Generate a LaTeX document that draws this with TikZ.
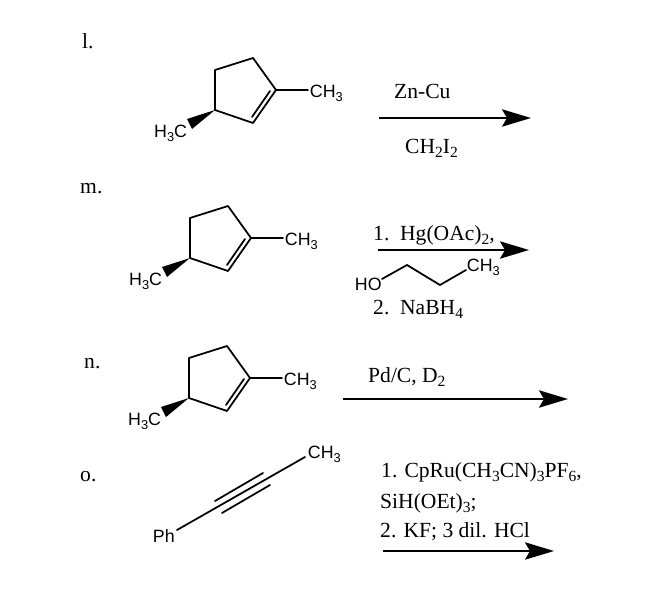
\documentclass[tikz,border=0pt]{standalone}
\usepackage{fontspec}
\setmainfont{Liberation Serif}
\setsansfont{Liberation Sans}
\usetikzlibrary{calc,arrows.meta}
\tikzset{
  bond/.style={line width=1.5pt, line cap=round},
  rxnarrow/.style={line width=1.6pt, -{Stealth[length=0.87cm,width=0.52cm,inset=0.15cm]}},
  reagent/.style={anchor=base west, inner sep=0pt, font=\fontsize{18.4}{18.4}\selectfont},
  atom/.style={inner sep=1.5pt, font=\sffamily\fontsize{15.2}{15.2}\selectfont}
}
\newcommand{\sub}[1]{\raisebox{-0.5ex}{\scalebox{0.72}{#1}}}

\begin{document}
\begin{tikzpicture}[x=0.03cm,y=-0.03cm]
\useasboundingbox (0,0) rectangle (660,616);

% Item letters
\node[reagent] (letl) at (82,48) {l.};
\node[reagent] (letm) at (80,193) {m.};
\node[reagent] (letn) at (84,368) {n.};
\node[reagent] (leto) at (80,481) {o.};

% The three cyclopentenes
\foreach \nm/\dx/\dy in {l/0/0, m/-25/148, n/-26/288} {
\begin{scope}[shift={(\dx,\dy)}]
\coordinate (a\nm) at (253,58);
\coordinate (b\nm) at (215,70);
\coordinate (c\nm) at (215,110);
\coordinate (d\nm) at (253,123);
\coordinate (e\nm) at (276,90);
\coordinate (f\nm) at (270,91);
\coordinate (g\nm) at (252,117);
\node[atom, anchor=base west] (me\nm) at (308,97) {CH\sub{3}};
\node[atom, anchor=base east] (hc\nm) at (189,137) {H\sub{3}C};
\draw[bond, line join=round] (a\nm) -- (b\nm) -- (c\nm) -- (d\nm) -- (e\nm) -- cycle;
\draw[bond] (e\nm) -- (e\nm -| me\nm.west);
\draw[bond] (f\nm) -- (g\nm);
\fill (c\nm) -- (187,119) -- (192,129) -- cycle;
\end{scope}
}

% Reaction l
\node[reagent] (znc) at (394,98) {Zn-Cu};
\node[reagent] (chi) at (405,153) {CH\sub{2}I\sub{2}};
\coordinate (ls) at (379,118);
\coordinate (le) at (531,118);
\draw[rxnarrow] (ls) -- (le);

% Reaction m
\node[reagent] (hg) at (373,240) {1.\ \ Hg(OAc)\sub{2},};
\node[reagent] (nab) at (373,314) {2.\ \ NaBH\sub{4}};
\coordinate (ms) at (378,250);
\coordinate (me) at (529,250);
\draw[rxnarrow] (ms) -- (me);
\node[atom, anchor=base west] (ho) at (353,290) {HO};
\node[atom, anchor=base west] (ol) at (465,271) {CH\sub{3}};
\coordinate (h0) at (382,279);
\coordinate (p1) at (407,265);
\coordinate (p2) at (440,285);
\coordinate (p3) at (466,270);
\draw[bond, line join=round] (h0) -- (p1) -- (p2) -- (p3);

% Reaction n
\node[reagent] (pd) at (368,382) {Pd/C, D\sub{2}};
\coordinate (ns) at (343,399);
\coordinate (ne) at (568,399);
\draw[rxnarrow] (ns) -- (ne);

% Alkyne
\node[atom, anchor=base west] (ph) at (151,542) {Ph};
\node[atom, anchor=base west] (ch) at (306,458) {CH\sub{3}};
\coordinate (t0) at (177,530);
\coordinate (t5) at (305,457);
\coordinate (t1) at (215,501);
\coordinate (t2) at (263,473);
\coordinate (t3) at (222,513);
\coordinate (t4) at (270,485);
\draw[bond] (t0) -- (t5);
\draw[bond] (t1) -- (t2);
\draw[bond] (t3) -- (t4);

% Reaction o
\node[reagent] (cp) at (381,477) {1. CpRu(CH\sub{3}CN)\sub{3}PF\sub{6},};
\node[reagent] (si) at (380,508) {SiH(OEt)\sub{3};};
\node[reagent] (kf) at (380,537) {2. KF; 3 dil. HCl};
\coordinate (os) at (383,551);
\coordinate (oe) at (554,551);
\draw[rxnarrow] (os) -- (oe);
\end{tikzpicture}
\end{document}
